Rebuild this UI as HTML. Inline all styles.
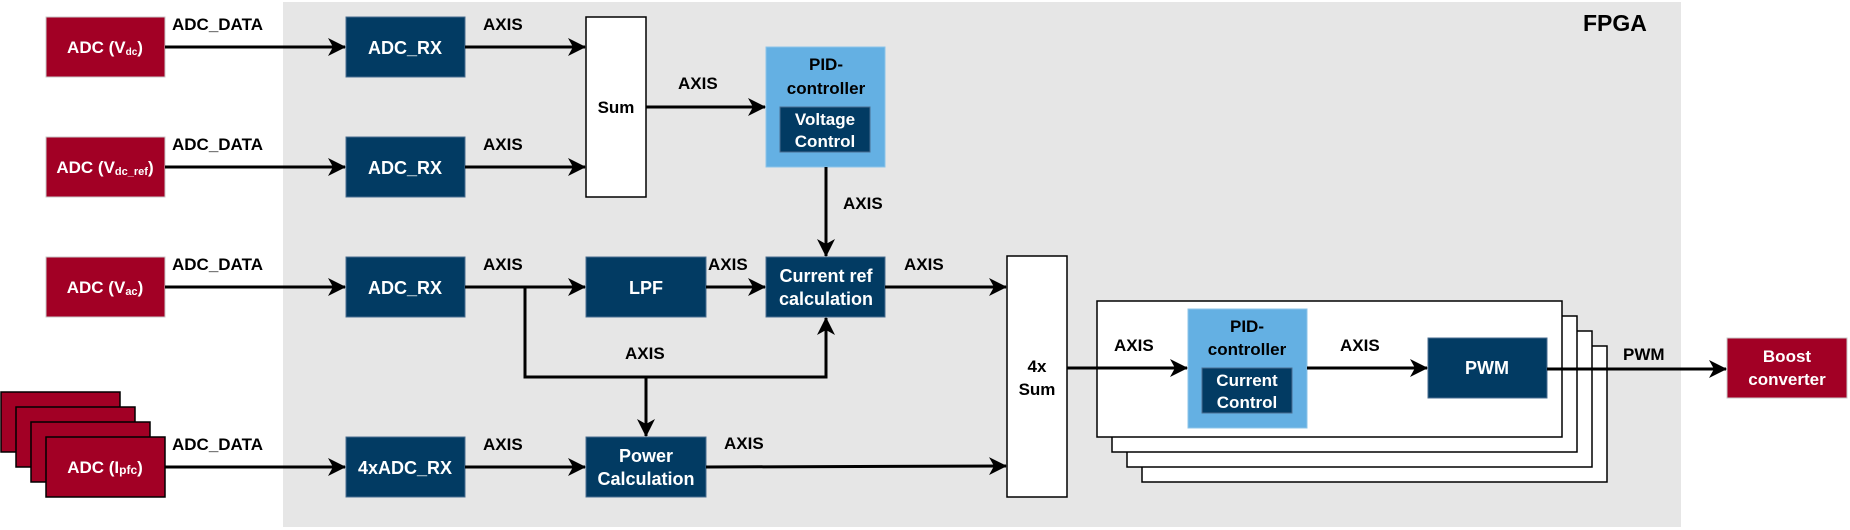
<!DOCTYPE html>
<html><head><meta charset="utf-8"><style>
html,body{margin:0;padding:0;background:#fff;width:1850px;height:530px;overflow:hidden}
text{font-family:"Liberation Sans",Arial,sans-serif;font-weight:bold}
</style></head><body>
<svg width="1850" height="530" viewBox="0 0 1850 530" xmlns="http://www.w3.org/2000/svg">
<defs>
<marker id="a" markerWidth="18" markerHeight="18" refX="17" refY="9" orient="auto" markerUnits="userSpaceOnUse" viewBox="0 0 18 18">
<path d="M0,0 L18,9 L0,18 L5,9 Z" fill="#000"/>
</marker>
</defs>
<rect x="283" y="2" width="1398" height="525" fill="#e6e6e6"/>
<text x="1583" y="31" font-size="23" fill="#000">FPGA</text>

<g fill="#a20025" stroke="#c9c9c9" stroke-width="1">
<rect x="46" y="17" width="119" height="60"/>
<rect x="46" y="137" width="119" height="60"/>
<rect x="46" y="257" width="119" height="60"/>
</g>
<g fill="#a20025" stroke="#000" stroke-width="1.5">
<rect x="1" y="392" width="119" height="60"/>
<rect x="16" y="407" width="119" height="60"/>
<rect x="31" y="422" width="119" height="60"/>
<rect x="46" y="437" width="119" height="60"/>
</g>
<g fill="#fff" font-size="17" text-anchor="middle">
<text x="105" y="53">ADC (V<tspan font-size="10" dy="2">dc</tspan><tspan dy="-2">)</tspan></text>
<text x="105" y="173">ADC (V<tspan font-size="11" dy="2">dc_ref</tspan><tspan dy="-2">)</tspan></text>
<text x="105" y="293">ADC (V<tspan font-size="11" dy="2">ac</tspan><tspan dy="-2">)</tspan></text>
<text x="105" y="473">ADC (I<tspan font-size="12" dy="1">pfc</tspan><tspan dy="-1">)</tspan></text>
</g>

<g fill="#023b63" stroke="#4a6e90" stroke-width="1">
<rect x="346" y="17" width="119" height="60"/>
<rect x="346" y="137" width="119" height="60"/>
<rect x="346" y="257" width="119" height="60"/>
<rect x="346" y="437" width="119" height="60"/>
<rect x="586" y="257" width="120" height="60"/>
<rect x="586" y="437" width="120" height="60"/>
<rect x="766" y="257" width="119" height="60"/>
</g>
<g fill="#fff" font-size="18" text-anchor="middle">
<text x="405" y="54">ADC_RX</text>
<text x="405" y="174">ADC_RX</text>
<text x="405" y="294">ADC_RX</text>
<text x="405" y="474">4xADC_RX</text>
<text x="646" y="294">LPF</text>
<text x="646" y="462">Power</text>
<text x="646" y="485">Calculation</text>
<text x="826" y="282">Current ref</text>
<text x="826" y="305">calculation</text>
</g>

<rect x="586" y="17" width="60" height="180" fill="#fff" stroke="#000" stroke-width="1.5"/>
<text x="616" y="113" font-size="17" text-anchor="middle">Sum</text>

<rect x="766" y="47" width="119" height="120" fill="#64b0e3" stroke="#8cc4ea"/>
<text x="826" y="70" font-size="17" text-anchor="middle">PID-</text>
<text x="826" y="94" font-size="17" text-anchor="middle">controller</text>
<rect x="780" y="107" width="90" height="45" fill="#023b63" stroke="#4a6e90"/>
<text x="825" y="125" font-size="17" fill="#fff" text-anchor="middle">Voltage</text>
<text x="825" y="147" font-size="17" fill="#fff" text-anchor="middle">Control</text>

<rect x="1007" y="256" width="60" height="241" fill="#fff" stroke="#000" stroke-width="1.5"/>
<text x="1037" y="372" font-size="17" text-anchor="middle">4x</text>
<text x="1037" y="395" font-size="17" text-anchor="middle">Sum</text>

<g fill="#fff" stroke="#000" stroke-width="1.5">
<rect x="1142" y="346" width="465" height="136"/>
<rect x="1127" y="331" width="465" height="136"/>
<rect x="1112" y="316" width="465" height="136"/>
<rect x="1097" y="301" width="465" height="136"/>
</g>
<rect x="1188" y="309" width="119" height="119" fill="#64b0e3" stroke="#8cc4ea"/>
<text x="1247" y="332" font-size="17" text-anchor="middle">PID-</text>
<text x="1247" y="355" font-size="17" text-anchor="middle">controller</text>
<rect x="1202" y="368" width="90" height="45" fill="#023b63" stroke="#4a6e90"/>
<text x="1247" y="386" font-size="17" fill="#fff" text-anchor="middle">Current</text>
<text x="1247" y="408" font-size="17" fill="#fff" text-anchor="middle">Control</text>
<rect x="1428" y="338" width="119" height="60" fill="#023b63" stroke="#4a6e90"/>
<text x="1487" y="374" font-size="18" fill="#fff" text-anchor="middle">PWM</text>
<rect x="1727" y="338" width="120" height="60" fill="#a20025" stroke="#c9c9c9"/>
<text x="1787" y="362" font-size="17" fill="#fff" text-anchor="middle">Boost</text>
<text x="1787" y="385" font-size="17" fill="#fff" text-anchor="middle">converter</text>

<g stroke="#000" stroke-width="3" fill="none" marker-end="url(#a)">
<line x1="165" y1="47" x2="345" y2="47"/>
<line x1="165" y1="167" x2="345" y2="167"/>
<line x1="165" y1="287" x2="345" y2="287"/>
<line x1="165" y1="467" x2="345" y2="467"/>
<line x1="465" y1="47" x2="585" y2="47"/>
<line x1="465" y1="167" x2="585" y2="167"/>
<line x1="465" y1="287" x2="585" y2="287"/>
<line x1="465" y1="467" x2="585" y2="467"/>
<line x1="646" y1="107" x2="765" y2="107"/>
<line x1="826" y1="167" x2="826" y2="256"/>
<line x1="706" y1="287" x2="765" y2="287"/>
<polyline points="525,287 525,377 826,377 826,318"/>
<line x1="646" y1="377" x2="646" y2="436"/>
<line x1="885" y1="287" x2="1006" y2="287"/>
<line x1="706" y1="467" x2="1006" y2="466"/>
<line x1="1067" y1="368" x2="1187" y2="368"/>
<line x1="1307" y1="368" x2="1427" y2="368"/>
<line x1="1547" y1="369" x2="1726" y2="369"/>
</g>

<g font-size="17" fill="#000">
<text x="172" y="30">ADC_DATA</text>
<text x="172" y="150">ADC_DATA</text>
<text x="172" y="270">ADC_DATA</text>
<text x="172" y="450">ADC_DATA</text>
<text x="483" y="30">AXIS</text>
<text x="483" y="150">AXIS</text>
<text x="483" y="270">AXIS</text>
<text x="483" y="450">AXIS</text>
<text x="678" y="89">AXIS</text>
<text x="843" y="209">AXIS</text>
<text x="708" y="270">AXIS</text>
<text x="625" y="359">AXIS</text>
<text x="724" y="449">AXIS</text>
<text x="904" y="270">AXIS</text>
<text x="1114" y="351">AXIS</text>
<text x="1340" y="351">AXIS</text>
<text x="1623" y="360">PWM</text>
</g>
</svg>
</body></html>
